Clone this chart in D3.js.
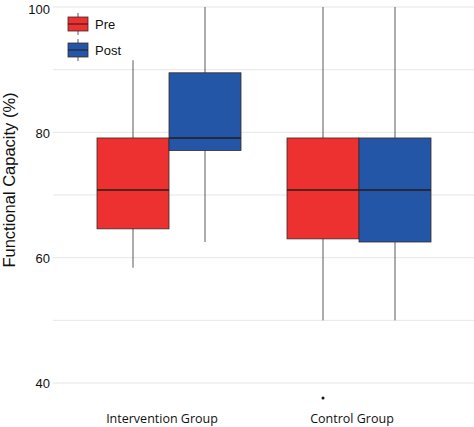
<!DOCTYPE html>
<html>
<head>
<meta charset="utf-8">
<script src="https://cdn.jsdelivr.net/npm/d3@7"></script>
<style>
  body { margin: 0; background: #fff; }
  text { font-family: "Liberation Sans", Arial, sans-serif; fill: #111; }
  .xlab { font-family: "Open Sans", "Noto Sans", sans-serif; }
</style>
</head>
<body>
<div id="chart"></div>
<script>
var groups = ["Intervention Group", "Control Group"];
var phases = ["Pre", "Post"];
var phaseColors = ["#ec3130", "#2356a6"];
// [whiskerLow, q1, median, q3, whiskerHigh] per group, per phase
var preStats  = [[58.4, 64.6, 70.8, 79.1, 91.5], [50, 63, 70.8, 79.1, 100]];
var postStats = [[62.5, 77.1, 79.1, 89.5, 100], [50, 62.5, 70.8, 79.1, 100]];
var outliers = [{group: "Control Group", phase: "Pre", value: 37.6}];
var yTicks = [40, 60, 80, 100];
var yGrid = [40, 50, 60, 70, 80, 90, 100];

var width = 474, height = 427;

var svg = d3.select("#chart")
    .append("svg")
        .attr("width", width)
        .attr("height", height);

/* Scales */
var x = d3.scaleBand()
    .domain(groups)
    .range([74, 454]);
var dodge = d3.scaleBand()
    .domain(phases)
    .range([0, 144]);
var y = d3.scaleLinear()
    .domain([40, 100])
    .range([383, 7]);
var color = d3.scaleOrdinal().domain(phases).range(phaseColors);

/* Grid */
svg.append("g").selectAll("line")
    .data(yGrid)
    .enter()
    .append("line")
        .attr("x1", 53).attr("x2", width)
        .attr("y1", function(d){ return y(d); })
        .attr("y2", function(d){ return y(d); })
        .attr("stroke", "#e6e6e6")
        .attr("stroke-width", 1);

/* Y axis labels */
var yAxis = svg.append("g")
    .attr("transform", "translate(50,0)")
    .call(d3.axisLeft(y).tickValues(yTicks).tickSize(0).tickPadding(0));
yAxis.select(".domain").remove();
yAxis.selectAll("text")
    .style("font-family", "'Liberation Sans', Arial, sans-serif")
    .style("font-size", "13px")
    .attr("dy", "0.36em")
    .attr("fill", "#111");
// keep the top label inside the page
yAxis.selectAll(".tick")
    .filter(function(d){ return d === 100; })
    .select("text")
        .attr("dy", "0.5em");

svg.append("text")
    .attr("transform", "translate(15,180) rotate(-90)")
    .attr("text-anchor", "middle")
    .style("font-size", "16.5px")
    .text("Functional Capacity (%)");

/* X labels */
svg.append("g").selectAll("text")
    .data(groups)
    .enter()
    .append("text")
        .attr("class", "xlab")
        .attr("x", function(d){ return x(d) + x.bandwidth() / 2 - 7; })
        .attr("y", 423)
        .attr("text-anchor", "middle")
        .style("font-size", "12.5px")
        .text(function(d){ return d; });

/* Boxes */
var boxes = [];
groups.forEach(function(g, i){
    boxes.push({group: g, phase: "Pre", s: preStats[i]});
    boxes.push({group: g, phase: "Post", s: postStats[i]});
});
function cx(d){
    var left = x(d.group) + x.bandwidth() / 2 - dodge.range()[1] / 2;
    return left + dodge(d.phase);
}

var box = svg.append("g").selectAll("g")
    .data(boxes)
    .enter()
    .append("g");

box.append("line")
    .attr("x1", function(d){ return cx(d) + dodge.bandwidth() / 2; })
    .attr("x2", function(d){ return cx(d) + dodge.bandwidth() / 2; })
    .attr("y1", function(d){ return y(d.s[0]); })
    .attr("y2", function(d){ return y(d.s[4]); })
    .attr("stroke", "#5a5a5a")
    .attr("stroke-width", 1);

box.append("rect")
    .attr("x", function(d){ return cx(d); })
    .attr("width", dodge.bandwidth())
    .attr("y", function(d){ return y(d.s[3]); })
    .attr("height", function(d){ return y(d.s[1]) - y(d.s[3]); })
    .attr("fill", function(d){ return color(d.phase); })
    .attr("stroke", "#3a2a2a")
    .attr("stroke-width", 0.8);

box.append("line")
    .attr("x1", function(d){ return cx(d); })
    .attr("x2", function(d){ return cx(d) + dodge.bandwidth(); })
    .attr("y1", function(d){ return y(d.s[2]); })
    .attr("y2", function(d){ return y(d.s[2]); })
    .attr("stroke", "#2a1a1a")
    .attr("stroke-width", 1.5);

svg.append("g").selectAll("circle")
    .data(outliers)
    .enter()
    .append("circle")
        .attr("cx", function(d){ return cx(d) + dodge.bandwidth() / 2; })
        .attr("cy", function(d){ return y(d.value); })
        .attr("r", 1.5)
        .attr("fill", "#111");

/* Legend */
var legend = svg.append("g").selectAll("g")
    .data(phases)
    .enter()
    .append("g")
        .attr("transform", function(d, i){ return "translate(68," + (17 + i * 26) + ")"; });
legend.append("line")
    .attr("x1", 10).attr("x2", 10)
    .attr("y1", -4).attr("y2", 18)
    .attr("stroke", "#5a5a5a");
legend.append("rect")
    .attr("width", 20).attr("height", 14)
    .attr("fill", function(d){ return color(d); })
    .attr("stroke", "#3a2a2a")
    .attr("stroke-width", 0.8);
legend.append("line")
    .attr("x1", 0).attr("x2", 20)
    .attr("y1", 7).attr("y2", 7)
    .attr("stroke", "#2a1a1a")
    .attr("stroke-width", 1);
legend.append("text")
    .attr("x", 27).attr("y", 7)
    .attr("dy", "0.36em")
    .style("font-size", "13px")
    .text(function(d){ return d; });
</script>
</body>
</html>
